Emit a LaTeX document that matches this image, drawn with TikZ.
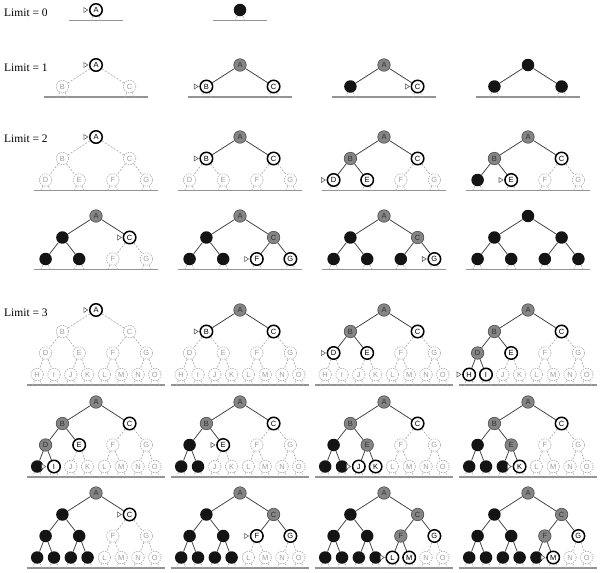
\documentclass[tikz,border=0pt]{standalone}
\usepackage{fontspec}
\setmainfont{Liberation Serif}
\setsansfont{Liberation Sans}

\newcommand\setnd[5]{%
  \expandafter\def\csname px#1\endcsname{#2}%
  \expandafter\def\csname py#1\endcsname{#3}%
  \expandafter\def\csname pd#1\endcsname{#4}%
  \expandafter\def\csname pp#1\endcsname{#5}}
\setnd{A}{0}{0}{0}{}
\setnd{B}{-33.6}{21.5}{1}{A}
\setnd{C}{33.6}{21.5}{1}{A}
\setnd{D}{-50.4}{43}{2}{B}
\setnd{E}{-16.8}{43}{2}{B}
\setnd{F}{16.8}{43}{2}{C}
\setnd{G}{50.4}{43}{2}{C}
\setnd{H}{-58.8}{64.5}{3}{D}
\setnd{I}{-42}{64.5}{3}{D}
\setnd{J}{-25.2}{64.5}{3}{E}
\setnd{K}{-8.4}{64.5}{3}{E}
\setnd{L}{8.4}{64.5}{3}{F}
\setnd{M}{25.2}{64.5}{3}{F}
\setnd{N}{42}{64.5}{3}{G}
\setnd{O}{58.8}{64.5}{3}{G}
\def\dnst{dn}
\def\fmst{fm}
\def\unst{un}

\tikzset{
  tnode/.style={circle, inner sep=0pt, minimum size=12.5pt, font=\sffamily\fontsize{7.5}{7.5}\selectfont},
  un/.style={tnode, draw=black!32, dashed, dash pattern=on 1.5pt off 1pt, line width=0.6pt, text=black!38},
  fr/.style={tnode, draw=black, line width=1.5pt, fill=white},
  fm/.style={fr},
  ex/.style={tnode, draw=black!70, fill=black!48, text=black!80, line width=0.6pt},
  dn/.style={tnode, fill=black!92},
  tedge/.style={draw=black!72, line width=0.8pt},
  uedge/.style={draw=black!32, dash pattern=on 2pt off 1.5pt, line width=0.7pt},
  ground/.style={draw=black!42, line width=1.7pt},
  marker/.style={draw=black!60, line width=0.6pt, fill=white},
  limit/.style={anchor=west, inner sep=0pt, font=\fontsize{11.5}{12}\selectfont}
}

\newcommand\idtree[5]{%
  \begin{scope}[shift={(#2,#3)}]
    \edef\gw{\ifcase#4 27\or 52\or 62\or 69\fi}
    \draw[ground] (-\gw,{#4*21.5+10.5}) -- (\gw,{#4*21.5+10.5});
    \foreach \n/\s in {#5}{
      \edef\ndx{\csname px\n\endcsname}\edef\ndy{\csname py\n\endcsname}\edef\ndst{\s}
      \ifx\ndst\dnst
        \node[dn] (#1\n) at (\ndx,\ndy) {};
      \else
        \node[\ndst] (#1\n) at (\ndx,\ndy) {\n};
      \fi
      \ifx\ndst\fmst
        \draw[marker] ([xshift=-1.2pt]#1\n.west) -- ++(-4,2.5) -- ++(0,-5) -- cycle;
      \fi
      \ifnum\csname pd\n\endcsname=#4
        \draw[uedge] (#1\n.-115) -- ++(-2,4.5);
        \draw[uedge] (#1\n.-65) -- ++(2,4.5);
      \fi
    }
    \foreach \n/\s in {#5}{
      \edef\ndp{\csname pp\n\endcsname}\edef\ndst{\s}
      \ifx\ndp\empty\else
        \ifx\ndst\unst
          \draw[uedge] (#1\ndp) -- (#1\n);
        \else
          \draw[tedge] (#1\ndp) -- (#1\n);
        \fi
      \fi
    }
  \end{scope}}

\begin{document}
\begin{tikzpicture}[x=1pt, y=-1pt]
  \useasboundingbox (0,0) rectangle (600,573);
  \node[limit] (lim0) at (4,13) {Limit = 0};
  \node[limit] (lim1) at (4,68) {Limit = 1};
  \node[limit] (lim2) at (4,139) {Limit = 2};
  \node[limit] (lim3) at (4,313) {Limit = 3};

  \idtree{t0a}{96}{10}{0}{A/fm}
  \idtree{t0b}{240}{10}{0}{A/dn}

  \idtree{t1a}{96}{65}{1}{A/fm,B/un,C/un}
  \idtree{t1b}{240}{65}{1}{A/ex,B/fm,C/fr}
  \idtree{t1c}{384}{65}{1}{A/ex,B/dn,C/fm}
  \idtree{t1d}{528}{65}{1}{A/dn,B/dn,C/dn}

  \idtree{t2a}{96}{137}{2}{A/fm,B/un,C/un,D/un,E/un,F/un,G/un}
  \idtree{t2b}{240}{137}{2}{A/ex,B/fm,C/fr,D/un,E/un,F/un,G/un}
  \idtree{t2c}{384}{137}{2}{A/ex,B/ex,C/fr,D/fm,E/fr,F/un,G/un}
  \idtree{t2d}{528}{137}{2}{A/ex,B/ex,C/fr,D/dn,E/fm,F/un,G/un}
  \idtree{t2e}{96}{216}{2}{A/ex,B/dn,C/fm,D/dn,E/dn,F/un,G/un}
  \idtree{t2f}{240}{216}{2}{A/ex,B/dn,C/ex,D/dn,E/dn,F/fm,G/fr}
  \idtree{t2g}{384}{216}{2}{A/ex,B/dn,C/ex,D/dn,E/dn,F/dn,G/fm}
  \idtree{t2h}{528}{216}{2}{A/dn,B/dn,C/dn,D/dn,E/dn,F/dn,G/dn}

  \idtree{t3a}{96}{310}{3}{A/fm,B/un,C/un,D/un,E/un,F/un,G/un,H/un,I/un,J/un,K/un,L/un,M/un,N/un,O/un}
  \idtree{t3b}{240}{310}{3}{A/ex,B/fm,C/fr,D/un,E/un,F/un,G/un,H/un,I/un,J/un,K/un,L/un,M/un,N/un,O/un}
  \idtree{t3c}{384}{310}{3}{A/ex,B/ex,C/fr,D/fm,E/fr,F/un,G/un,H/un,I/un,J/un,K/un,L/un,M/un,N/un,O/un}
  \idtree{t3d}{528}{310}{3}{A/ex,B/ex,C/fr,D/ex,E/fr,F/un,G/un,H/fm,I/fr,J/un,K/un,L/un,M/un,N/un,O/un}
  \idtree{t3e}{96}{402}{3}{A/ex,B/ex,C/fr,D/ex,E/fr,F/un,G/un,H/dn,I/fm,J/un,K/un,L/un,M/un,N/un,O/un}
  \idtree{t3f}{240}{402}{3}{A/ex,B/ex,C/fr,D/dn,E/fm,F/un,G/un,H/dn,I/dn,J/un,K/un,L/un,M/un,N/un,O/un}
  \idtree{t3g}{384}{402}{3}{A/ex,B/ex,C/fr,D/dn,E/ex,F/un,G/un,H/dn,I/dn,J/fm,K/fr,L/un,M/un,N/un,O/un}
  \idtree{t3h}{528}{402}{3}{A/ex,B/ex,C/fr,D/dn,E/ex,F/un,G/un,H/dn,I/dn,J/dn,K/fm,L/un,M/un,N/un,O/un}
  \idtree{t3i}{96}{493}{3}{A/ex,B/dn,C/fm,D/dn,E/dn,F/un,G/un,H/dn,I/dn,J/dn,K/dn,L/un,M/un,N/un,O/un}
  \idtree{t3j}{240}{493}{3}{A/ex,B/dn,C/ex,D/dn,E/dn,F/fm,G/fr,H/dn,I/dn,J/dn,K/dn,L/un,M/un,N/un,O/un}
  \idtree{t3k}{384}{493}{3}{A/ex,B/dn,C/ex,D/dn,E/dn,F/ex,G/fr,H/dn,I/dn,J/dn,K/dn,L/fm,M/fr,N/un,O/un}
  \idtree{t3l}{528}{493}{3}{A/ex,B/dn,C/ex,D/dn,E/dn,F/ex,G/fr,H/dn,I/dn,J/dn,K/dn,L/dn,M/fm,N/un,O/un}
\end{tikzpicture}
\end{document}
